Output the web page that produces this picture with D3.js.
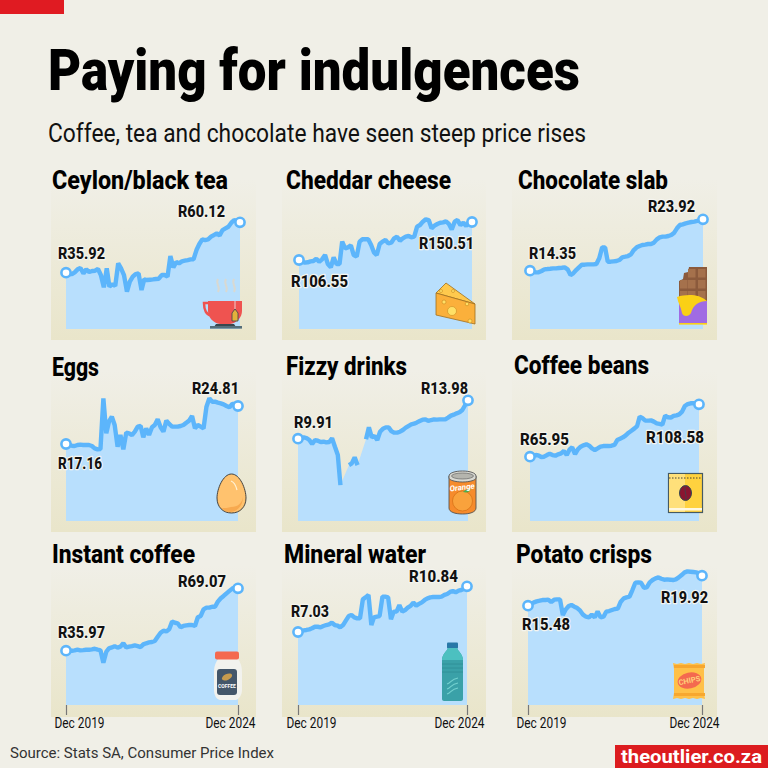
<!DOCTYPE html>
<html>
<head>
<meta charset="utf-8">
<title>Paying for indulgences</title>
<script src="https://cdn.jsdelivr.net/npm/d3@7"></script>
<style>
  html, body { margin: 0; padding: 0; background: #f0efe7; }
  svg { display: block; font-family: Roboto, "Open Sans", sans-serif; }
</style>
</head>
<body>
<div id="chart"></div>
<script>
// monthly prices in rand, Dec 2019 to Dec 2024
var ceylonTea = [35.92,35.28,35.28,36.08,37.52,38.16,35.60,37.52,36.24,36.72,36.88,37.68,34.80,28.88,38.00,29.20,30.48,29.52,40.40,38.00,34.80,26.80,31.60,34.00,35.28,35.60,27.60,32.72,32.40,32.56,32.72,32.88,33.04,34.80,34.80,34.00,43.92,38.48,41.04,40.40,41.36,41.68,42.00,42.32,42.32,46.80,49.68,51.92,51.60,51.92,53.20,54.00,54.80,53.84,56.40,57.20,58.00,59.92,61.20,60.72,60.12];
var cheddarCheese = [106.55,104.6,103.5,103.9,105.0,105.4,108.1,104.6,107.3,112.3,101.9,98.1,109.6,101.9,101.9,127.8,120.0,121.2,123.5,112.3,110.4,127.8,130.5,130.5,130.5,123.9,115.0,112.3,125.1,127.8,129.7,125.8,126.6,131.6,133.5,128.9,131.6,133.5,134.3,132.8,133.5,145.1,147.0,150.9,153.6,152.8,143.2,146.3,148.2,149.7,150.1,151.3,148.2,142.0,150.9,152.8,147.0,149.7,145.9,150.9,150.51];
var chocolateSlab = [14.35,14.16,14.04,14.04,14.29,14.60,14.66,14.72,14.79,14.79,14.85,14.91,14.97,14.60,13.54,13.85,14.47,14.97,15.47,15.47,15.53,15.53,15.53,15.59,16.65,18.70,18.70,16.03,16.03,16.09,16.15,16.34,16.84,16.96,17.08,17.39,18.20,18.70,18.95,19.13,19.20,19.32,19.32,19.57,20.19,20.56,20.69,20.69,20.81,21.00,21.43,22.24,22.86,22.99,23.17,23.30,23.42,23.48,23.61,23.79,23.92];
var eggs = [17.16,16.96,16.82,16.76,16.96,17.03,16.96,16.96,16.96,16.76,16.29,16.09,16.15,26.35,19.31,21.66,22.66,20.98,16.62,18.97,16.09,19.44,19.31,18.97,19.64,20.65,20.78,18.50,20.31,18.97,20.52,20.98,22.13,20.52,19.64,21.86,21.19,20.65,20.65,20.65,20.78,20.98,21.45,21.86,22.80,20.31,20.98,20.65,20.31,24.68,26.35,25.68,25.68,25.48,25.35,25.14,24.81,24.54,25.21,25.21,24.81];
var fizzyDrinks = [9.91,9.95,10.05,9.98,9.77,9.34,9.77,9.70,9.56,9.59,9.52,9.56,9.95,9.06,8.18,4.99,null,null,7.11,7.29,7.93,7.11,null,null,9.84,11.11,10.05,10.19,9.77,10.65,10.97,11.11,11.11,10.69,10.55,10.55,10.65,10.83,11.08,11.25,11.43,11.50,11.64,11.79,11.93,11.96,11.79,11.89,11.96,11.93,11.96,11.96,11.96,12.14,12.35,12.46,12.60,12.71,12.95,13.48,13.98];
var coffeeBeans = [65.95,66.8,67.3,67.0,65.7,65.95,67.3,68.4,67.3,66.8,67.9,68.7,70.6,67.3,71.9,73.6,68.1,71.9,74.1,75.2,76.0,74.9,72.7,71.4,72.7,74.1,74.6,74.6,74.6,74.9,75.5,79.5,80.6,81.7,83.3,85.5,87.1,88.8,90.9,98.5,97.2,95.3,95.3,95.5,94.5,93.1,92.6,92.0,99.3,98.0,97.7,99.1,99.6,100.4,102.6,107.2,108.8,109.4,109.4,109.1,108.58];
var instantCoffee = [35.97,36.15,35.97,36.15,36.5,36.15,36.3,36.5,36.5,36.7,37.0,36.5,36.15,29.6,35.4,37.2,37.7,38.4,37.6,38.1,39.9,37.7,38.1,38.4,38.8,38.4,37.9,39.3,39.9,40.4,40.6,41.1,43.4,45.5,46.6,46.2,47.3,51.4,50.8,50.5,48.4,49.1,49.4,49.6,49.6,49.1,53.7,54.4,57.9,58.8,58.8,59.3,59.3,62.0,63.8,65.0,66.4,67.7,68.9,69.6,69.07];
var mineralWater = [7.03,7.11,7.17,7.20,7.25,7.34,7.47,7.47,7.42,7.53,7.61,7.67,7.81,7.61,7.56,7.42,7.61,7.98,8.36,8.45,8.25,8.17,8.17,9.75,9.92,10.12,7.61,8.25,8.31,8.36,9.98,9.98,9.92,8.09,8.73,8.73,9.28,8.73,8.86,9.06,9.20,9.48,9.23,9.37,9.50,9.70,9.84,9.92,9.95,9.95,9.95,9.98,10.12,10.20,10.37,10.45,10.34,10.48,10.53,10.64,10.84];
var potatoCrisps = [15.48,15.73,15.97,16.12,16.22,16.32,16.32,16.37,16.02,16.37,16.42,16.42,14.10,14.94,15.43,15.58,15.33,15.13,14.74,14.15,13.85,13.75,14.15,13.75,14.64,13.75,13.85,14.59,14.69,14.84,14.99,15.04,16.07,16.56,16.71,16.81,17.80,18.88,18.93,18.88,18.14,18.19,18.93,19.28,19.52,19.67,19.47,19.33,19.37,19.33,19.28,19.37,19.67,20.02,20.41,20.56,20.51,20.46,20.41,20.26,19.92];

var categories = ["Ceylon/black tea","Cheddar cheese","Chocolate slab","Eggs","Fizzy drinks","Coffee beans","Instant coffee","Mineral water","Potato crisps"];
var allSeries = [ceylonTea,cheddarCheese,chocolateSlab,eggs,fizzyDrinks,coffeeBeans,instantCoffee,mineralWater,potatoCrisps];
var firstLabels = ["R35.92","R106.55","R14.35","R17.16","R9.91","R65.95","R35.97","R7.03","R15.48"];
var lastLabels = ["R60.12","R150.51","R23.92","R24.81","R13.98","R108.58","R69.07","R10.84","R19.92"];
var startDate = new Date(Date.UTC(2019, 11, 1));
var endDate = new Date(Date.UTC(2024, 11, 1));

// page layout, one entry per panel (pixels)
var layout = [
  { px:51,  pw:205, top:178, bot:340, x0:66,  x1:240, yFirst:272.7, yLast:222.3, base:329, tb:189, tx:[52,228],  first:[58,105,259],  last:[178,225,217] },
  { px:282, pw:204, top:178, bot:340, x0:299, x1:472, yFirst:260,   yLast:222,   base:329, tb:189, tx:[286,451], first:[291,348,287], last:[419,474,249] },
  { px:512, pw:205, top:178, bot:340, x0:530, x1:703, yFirst:270.7, yLast:219.3, base:329, tb:189, tx:[518,668], first:[529,576,259], last:[648,695,212] },
  { px:51,  pw:205, top:370, bot:532, x0:66,  x1:238, yFirst:444,   yLast:406,   base:521, tb:376, tx:[52,99],   first:[58,102,469],  last:[192,239,394] },
  { px:282, pw:204, top:370, bot:532, x0:298, x1:468, yFirst:438.7, yLast:400.3, base:521, tb:375, tx:[286,407], first:[294,333,428], last:[421,468,394] },
  { px:512, pw:205, top:370, bot:532, x0:530, x1:699, yFirst:456.7, yLast:404.3, base:521, tb:374, tx:[514,649], first:[520,569,445], last:[646,704,443] },
  { px:51,  pw:205, top:565, bot:717, x0:66,  x1:238, yFirst:650.7, yLast:588.3, base:705, tb:563, tx:[52,195],  first:[58,105,638],  last:[178,226,587] },
  { px:282, pw:204, top:565, bot:717, x0:298, x1:467, yFirst:632,   yLast:586.3, base:705, tb:563, tx:[284,426], first:[291,329,617], last:[409,458,582] },
  { px:512, pw:205, top:565, bot:717, x0:528, x1:702, yFirst:605.7, yLast:575.7, base:705, tb:563, tx:[516,652], first:[522,570,630], last:[661,708,603] }
];

var width = 768, height = 768;
var lineBlue = "#5cb5fb", areaBlue = "#b8dffd";

var svg = d3.select("#chart").append("svg")
  .attr("width", width)
  .attr("height", height);

var defs = svg.append("defs");
var grad = defs.append("linearGradient").attr("id", "panelFade")
  .attr("x1", 0).attr("y1", 0).attr("x2", 0).attr("y2", 1);
grad.append("stop").attr("offset", "0%").attr("stop-color", "#f0efe7");
grad.append("stop").attr("offset", "100%").attr("stop-color", "#e9e5ca");

svg.append("rect").attr("width", width).attr("height", height).attr("fill", "#f0efe7");

// squeeze text to the measured width, the installed fonts are wider than the original
function label(g, str, x0, x1, y, size, weight, fill) {
  return g.append("text")
    .attr("x", x0).attr("y", y)
    .attr("textLength", x1 - x0)
    .attr("lengthAdjust", "spacingAndGlyphs")
    .attr("font-size", size)
    .attr("font-weight", weight)
    .attr("fill", fill)
    .text(str);
}

svg.append("rect").attr("width", 64).attr("height", 14).attr("fill", "#e01b22");
label(svg, "Paying for indulgences", 48, 580, 90, 58, 900, "#000");
label(svg, "Coffee, tea and chocolate have seen steep price rises", 48, 586, 142, 26, 400, "#111");

var months = d3.utcMonth.range(startDate, d3.utcMonth.offset(endDate, 1));
var tickFormat = d3.utcFormat("%b %Y");
var drawIcon = [drawIcon0, drawIcon1, drawIcon2, drawIcon3, drawIcon4, drawIcon5, drawIcon6, drawIcon7, drawIcon8];

allSeries.forEach(function(values, i) {
  var p = layout[i];
  var g = svg.append("g");

  g.append("rect")
    .attr("x", p.px).attr("y", p.top)
    .attr("width", p.pw).attr("height", p.bot - p.top)
    .attr("fill", "url(#panelFade)");

  var x = d3.scaleUtc().domain([startDate, endDate]).range([p.x0, p.x1]);
  var y = d3.scaleLinear()
    .domain([values[0], values[values.length - 1]])
    .range([p.yFirst, p.yLast]);

  var rows = values.map(function(v, j) { return { date: months[j], val: v }; });

  var area = d3.area()
    .x(function(d) { return x(d.date); })
    .y0(p.base)
    .y1(function(d) { return y(d.val); });
  var line = d3.line()
    .defined(function(d) { return d.val !== null; })
    .x(function(d) { return x(d.date); })
    .y(function(d) { return y(d.val); });

  g.append("path")
    .attr("d", area(rows.filter(function(d) { return d.val !== null; })))
    .attr("fill", areaBlue);

  drawIcon[i](g.append("g"));

  g.append("path")
    .attr("d", line(rows))
    .attr("fill", "none")
    .attr("stroke", lineBlue)
    .attr("stroke-width", 4.4)
    .attr("stroke-linejoin", "bevel");

  [rows[0], rows[rows.length - 1]].forEach(function(d) {
    g.append("circle")
      .attr("cx", x(d.date)).attr("cy", y(d.val))
      .attr("r", 4.6)
      .attr("fill", "#fff")
      .attr("stroke", lineBlue)
      .attr("stroke-width", 2.6);
  });

  label(g, categories[i], p.tx[0], p.tx[1], p.tb, 26, 800, "#000");

  [[firstLabels[i], p.first], [lastLabels[i], p.last]].forEach(function(l) {
    label(g, l[0], l[1][0], l[1][1], l[1][2], 17, 800, "#111")
      .attr("stroke", "#f5f5ef")
      .attr("stroke-width", 2.5)
      .attr("stroke-linejoin", "round")
      .attr("paint-order", "stroke");
  });

  // only the bottom row carries the date axis
  if (i >= 6) {
    var axis = g.append("g")
      .attr("transform", "translate(0," + p.base + ")")
      .call(d3.axisBottom(x).tickValues([startDate, endDate]).tickSize(10).tickFormat(tickFormat));
    axis.select(".domain").remove();
    axis.selectAll(".tick line").attr("stroke", "#777").attr("stroke-width", 1.2);
    axis.selectAll(".tick text")
      .attr("dx", function(d, k) { return k === 0 ? 13 : -8; })
      .attr("y", 13)
      .attr("dy", "0.71em")
      .attr("font-size", 14)
      .attr("font-family", "Roboto, sans-serif")
      .attr("fill", "#111")
      .attr("textLength", 50)
      .attr("lengthAdjust", "spacingAndGlyphs");
  }
});

label(svg, "Source: Stats SA, Consumer Price Index", 10, 274, 758, 15, 400, "#333");
svg.append("rect").attr("x", 615).attr("y", 745).attr("width", 153).attr("height", 23).attr("fill", "#dc1c1f");
label(svg, "theoutlier.co.za", 621, 762, 763, 19, 700, "#fff");

// hand drawn product icons, one for each panel
function drawIcon0(g) { // tea cup
  g.attr("transform", "translate(202,277)");
  ["M16 2c-3 5 3 7 0 13", "M24 2c-3 5 3 7 0 13", "M32 2c-3 5 3 7 0 13"].forEach(function(s) {
    g.append("path").attr("d", s).attr("fill", "none").attr("stroke", "#d9d9d2").attr("stroke-width", 2);
  });
  g.append("path").attr("d", "M2 26h8v12c-6 1-8-6-8-12z").attr("fill", "none").attr("stroke", "#ef5350").attr("stroke-width", 2.5);
  g.append("path").attr("d", "M6 24h34v10c0 6-5 12-12 13H18c-7-1-12-7-12-13z").attr("fill", "#ef5350");
  g.append("path").attr("d", "M14 47h18l2 3H12z").attr("fill", "#37474f");
  g.append("rect").attr("x", 8).attr("y", 49).attr("width", 32).attr("height", 2.6).attr("fill", "#546e7a");
  g.append("path").attr("d", "M33 24v8").attr("stroke", "#eee").attr("stroke-width", 0.8);
  g.append("path").attr("d", "M30 36l3-4 3 4v8h-6z").attr("fill", "#e2b13c").attr("stroke", "#37474f").attr("stroke-width", 0.8);
}
function drawIcon1(g) { // cheese wedge
  g.attr("transform", "translate(435,282)");
  g.append("path").attr("d", "M1 11L11 1l29 21z").attr("fill", "#ffc94d").attr("stroke", "#a0701f").attr("stroke-width", 0.8);
  g.append("path").attr("d", "M1 11l39 11v20L1 33z").attr("fill", "#fbb03b").attr("stroke", "#a0701f").attr("stroke-width", 0.8);
  [[9,20,2],[17,29,4.5],[35,39,2],[32,22,1.8],[6,9,1.5],[18,9,1.5]].forEach(function(c) {
    g.append("circle").attr("cx", c[0]).attr("cy", c[1]).attr("r", c[2]).attr("fill", "#ffe066").attr("stroke", "#c98a20").attr("stroke-width", 0.6);
  });
}
function drawIcon2(g) { // chocolate bar
  g.attr("transform", "translate(677,267)");
  g.append("path").attr("d", "M12 0h18v36H2V14l4-2 1-6 4-1z").attr("fill", "#8b5a3c");
  [[11,2],[21,2],[11,13],[21,13],[3,13],[3,24],[11,24],[21,24]].forEach(function(c) {
    g.append("rect").attr("x", c[0]).attr("y", c[1]).attr("width", 7.5).attr("height", 8.5).attr("fill", "#a5714c");
  });
  g.append("rect").attr("x", 2).attr("y", 34).attr("width", 28).attr("height", 23).attr("fill", "#a06be3");
  g.append("path").attr("d", "M0 30c10-3 22-3 30 4-8 0-14 4-16 12-2 4-8 4-9 0-1-6-4-10-5-16z").attr("fill", "#fad016");
  g.append("rect").attr("x", 2).attr("y", 56).attr("width", 28).attr("height", 1.6).attr("fill", "#fad016");
}
function drawIcon3(g) { // egg
  g.attr("transform", "translate(217,473)");
  g.append("path").attr("d", "M14.5 1C23 1 29 16 29 25c0 9-6 15-14.5 15S0 34 0 25C0 16 6 1 14.5 1z").attr("fill", "#ffc26e").attr("stroke", "#333").attr("stroke-width", 0.9);
  g.append("path").attr("d", "M14 34c7 0 11-4 12-10 0 8-5 14-12 15-4 0-7-1-9-4 3 0 6 0 9-1z").attr("fill", "#f7a94f");
  g.append("path").attr("d", "M14 8c3 1 5 5 6 9").attr("fill", "none").attr("stroke", "#fff3d6").attr("stroke-width", 1.2);
}
function drawIcon4(g) { // orange can
  g.attr("transform", "translate(448,470)");
  g.append("path").attr("d", "M1 6v32c0 4 6 6 13.5 6S28 42 28 38V6z").attr("fill", "#f68b2c").attr("stroke", "#555").attr("stroke-width", 0.9);
  g.append("path").attr("d", "M1 6c0-3 6-5 13.5-5S28 3 28 6v2c0 2-6 4-13.5 4S1 10 1 8z").attr("fill", "#d9d9d2").attr("stroke", "#555").attr("stroke-width", 0.9);
  g.append("ellipse").attr("cx", 14.5).attr("cy", 6).attr("rx", 11).attr("ry", 3).attr("fill", "#b5b5ae").attr("stroke", "#555").attr("stroke-width", 0.6);
  g.append("circle").attr("cx", 14.5).attr("cy", 31).attr("r", 10).attr("fill", "#f9a23c").attr("stroke", "#d36f14").attr("stroke-width", 0.7);
  g.append("path").attr("d", "M15 22c3-3 6-3 8-3-1 3-4 4-8 3z").attr("fill", "#4caf50");
  g.append("text").attr("x", 14.5).attr("y", 20).attr("text-anchor", "middle")
    .attr("font-size", 8).attr("font-style", "italic").attr("font-weight", 700).attr("fill", "#fff")
    .attr("transform", "rotate(-7 14.5 20)").text("Orange");
}
function drawIcon5(g) { // bag of beans
  g.attr("transform", "translate(668,473)");
  g.append("rect").attr("x", 0.5).attr("y", 0.5).attr("width", 34).attr("height", 39).attr("fill", "#ffd23f").attr("stroke", "#455a64").attr("stroke-width", 1.2);
  g.append("rect").attr("x", 1).attr("y", 1).attr("width", 16).attr("height", 38).attr("fill", "#ffe07a");
  g.append("path").attr("d", "M1 5h33").attr("stroke", "#333").attr("stroke-width", 0.9).attr("stroke-dasharray", "1.5 1.5");
  g.append("rect").attr("x", 1).attr("y", 35).attr("width", 33).attr("height", 2.5).attr("fill", "#fff8e0");
  g.append("ellipse").attr("cx", 17.5).attr("cy", 20).attr("rx", 6).attr("ry", 7.5).attr("fill", "#8a1530").attr("stroke", "#37474f").attr("stroke-width", 1);
  g.append("path").attr("d", "M17.5 13c-2 4 2 10 0 14").attr("fill", "none").attr("stroke", "#37474f").attr("stroke-width", 0.8);
}
function drawIcon6(g) { // coffee jar
  g.attr("transform", "translate(212,651)");
  g.append("path").attr("d", "M6 8h20c3 4 4 8 4 14v17c0 5-3 9-6 10H8c-4-1-6-5-6-10V20c0-5 2-9 4-12z").attr("fill", "#f2f2ee");
  g.append("rect").attr("x", 3).attr("y", 0.5).attr("width", 24).attr("height", 8).attr("rx", 2).attr("fill", "#f4694f");
  g.append("rect").attr("x", 5).attr("y", 18).attr("width", 20).attr("height", 26).attr("rx", 3).attr("fill", "#43566a");
  g.append("ellipse").attr("cx", 15).attr("cy", 26).attr("rx", 5.5).attr("ry", 3).attr("fill", "#c69b4e").attr("transform", "rotate(-25 15 26)");
  g.append("text").attr("x", 15).attr("y", 37).attr("text-anchor", "middle").attr("font-size", 5).attr("font-weight", 700).attr("fill", "#fff").text("COFFEE");
}
function drawIcon7(g) { // water bottle
  g.attr("transform", "translate(442,642)");
  g.append("rect").attr("x", 5).attr("y", 0.5).attr("width", 11).attr("height", 6).attr("rx", 1).attr("fill", "#2878a8");
  g.append("path").attr("d", "M6 6h9c1 3 5 5 6 11v40c0 1-1 2-2 2H2c-1 0-2-1-2-2V17c1-6 5-8 6-11z").attr("fill", "#3aa1a8");
  g.append("path").attr("d", "M6 6h9c1 3 5 5 6 11v1H0v-1c1-6 5-8 6-11z").attr("fill", "#4cc0c0");
  [22,26,30].forEach(function(yy) {
    g.append("path").attr("d", "M0 " + yy + "h21").attr("stroke", "#2f8d94").attr("stroke-width", 0.8);
  });
  [38,43,48].forEach(function(yy) {
    g.append("path").attr("d", "M5 " + (yy + 4) + "c4-1 4-5 11-6").attr("fill", "none").attr("stroke", "#73d0cf").attr("stroke-width", 1.2);
  });
}
function drawIcon8(g) { // chips packet
  g.attr("transform", "translate(673,662)");
  g.append("path").attr("d", "M0 1l4 1 4-1 4 1 4-1 4 1 4-1 4 1 4-1-1 6v24l1 6-4-1-4 1-4-1-4 1-4-1-4 1-4-1-4 1 1-6V7z").attr("fill", "#ffc048");
  g.append("rect").attr("x", 1).attr("y", 3).attr("width", 31).attr("height", 3).attr("fill", "#f7a72f");
  g.append("rect").attr("x", 1).attr("y", 31).attr("width", 31).attr("height", 3).attr("fill", "#f7a72f");
  g.append("ellipse").attr("cx", 16.5).attr("cy", 18.5).attr("rx", 12).attr("ry", 8).attr("fill", "#f4694f").attr("transform", "rotate(-12 16.5 18.5)");
  g.append("text").attr("x", 16.5).attr("y", 21).attr("text-anchor", "middle").attr("font-size", 7.5).attr("font-weight", 700).attr("fill", "#ffd07a")
    .attr("transform", "rotate(-12 16.5 18.5)").text("CHIPS");
}
</script>
</body>
</html>
